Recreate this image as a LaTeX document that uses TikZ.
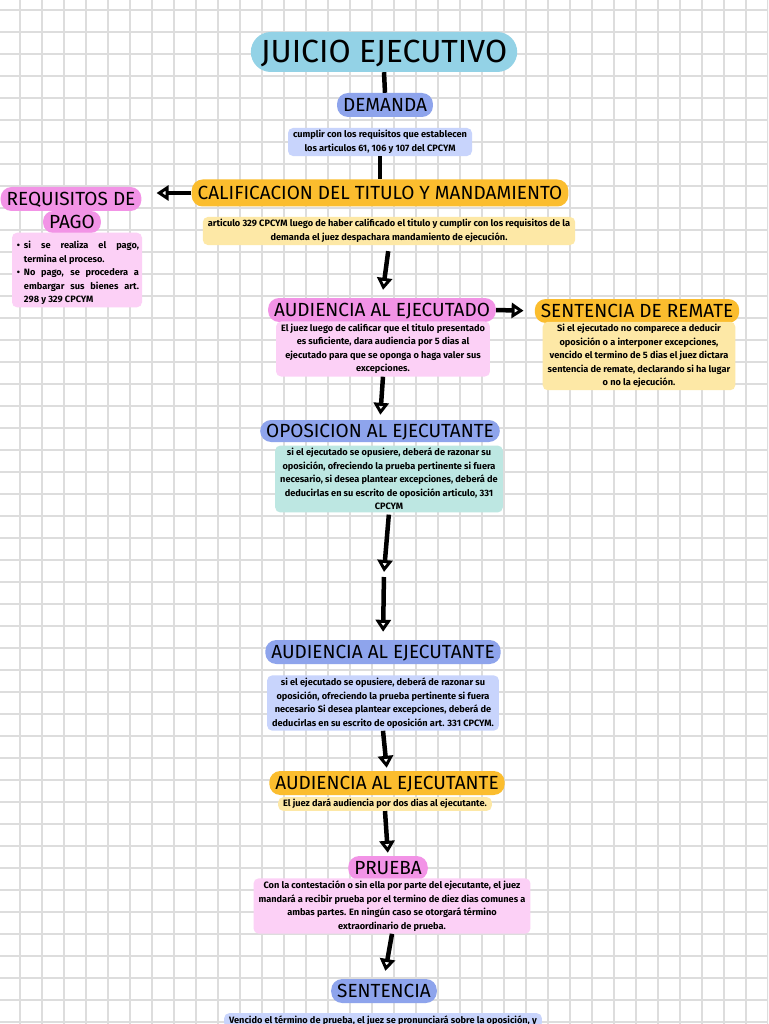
\documentclass[tikz,border=0pt]{standalone}
\usepackage{fontspec}
\setmainfont{Fira Sans}
\newfontfamily\hf{Fira Sans}
\usetikzlibrary{arrows.meta}
\definecolor{gridc}{HTML}{DDDDDD}
\definecolor{sky}{HTML}{93D2E6}
\definecolor{peri}{HTML}{8EA4EC}
\definecolor{periL}{HTML}{C8D4FC}
\definecolor{amber}{HTML}{FBBD2E}
\definecolor{amberL}{HTML}{FDE8A6}
\definecolor{pink}{HTML}{F293E6}
\definecolor{pinkL}{HTML}{FCD0F6}
\definecolor{tealL}{HTML}{BDE7E2}
\begin{document}
\begin{tikzpicture}[x=1pt,y=-1pt,
  pill/.style={rounded corners=11pt, minimum height=24pt, inner xsep=6pt, inner ysep=0pt,
    text height=13.5pt, text depth=0pt, font=\hf\fontsize{19}{22}\selectfont},
  tbox/.style={rounded corners=5pt, inner xsep=5pt, inner ysep=2.5pt, align=center,
    font=\bfseries\fontsize{9.2}{13.5}\selectfont},
  conn/.style={line width=4.5pt, black},
  arr/.style={conn, -{Triangle[open,length=12pt,width=15pt,line width=3.5pt]}},
  gridline/.style={gridc, line width=1.6pt}]
\clip (0,0) rectangle (768,1024);
\fill[white] (0,0) rectangle (768,1024);
\foreach \x in {20,42,...,768} \draw[gridline] (\x,0) -- (\x,1024);
\foreach \y in {10,32,...,1024} \draw[gridline] (0,\y) -- (768,\y);

% nodes
\node[pill, fill=sky, rounded corners=20pt, minimum height=40pt, inner xsep=10pt,
  text height=22pt, font=\hf\fontsize{32}{36}\selectfont] (title) at (384,52) {JUICIO EJECUTIVO};
\node[pill, fill=peri] (dem) at (385,105) {DEMANDA};
\node[tbox, fill=periL] (demtxt) at (380,142) {cumplir con los requisitos que establecen\\los articulos 61, 106 y 107 del CPCYM};
\node[pill, fill=amber, minimum height=27pt] (calif) at (380,193) {CALIFICACION DEL TITULO Y MANDAMIENTO};
\node[tbox, fill=amberL] (califtxt) at (389,231) {articulo 329 CPCYM luego de haber calificado el titulo y cumplir con los requisitos de la\\demanda el juez despachara mandamiento de ejecución.};

\node[pill, fill=pink] (req) at (71,199) {REQUISITOS DE};
\node[pill, fill=pink, rounded corners=10pt, minimum height=22pt] (reqb) at (72,222) {PAGO};
\node[tbox, fill=pinkL, text width=124pt, align=justify, inner xsep=3pt] (reqtxt) at (77,270)
 {\hyphenpenalty=10000 \exhyphenpenalty=10000
  \list{\textbullet}{\leftmargin=9pt \labelwidth=5pt \labelsep=4pt \topsep=0pt \itemsep=0pt \parsep=0pt \partopsep=0pt}%
  \item si se realiza el pago, termina el proceso.
  \item No pago, se procedera a embargar sus bienes art. 298 y 329 CPCYM\endlist};

\node[pill, fill=pink] (aud) at (382,310) {AUDIENCIA AL EJECUTADO};
\node[tbox, fill=pinkL] (audtxt) at (383,349) {El juez luego de calificar que el titulo presentado\\es suficiente, dara audiencia por 5 dias al\\ejecutado para que se oponga o haga valer sus\\excepciones.};
\node[pill, fill=amber] (rem) at (637,311) {SENTENCIA DE REMATE};
\node[tbox, fill=amberL] (remtxt) at (639,356) {Si el ejecutado no comparece a deducir\\oposición o a interponer excepciones,\\vencido el termino de 5 dias el juez dictara\\sentencia de remate, declarando si ha lugar\\o no la ejecución.};

\node[pill, fill=peri, minimum height=22pt] (opo) at (380,431) {OPOSICION AL EJECUTANTE};
\node[tbox, fill=tealL] (opotxt) at (389,479) {si el ejecutado se opusiere, deberá de razonar su\\oposición, ofreciendo la prueba pertinente si fuera\\necesario, si desea plantear excepciones, deberá de\\deducirlas en su escrito de oposición articulo, 331\\CPCYM};
\coordinate (mid) at (384,572);

\node[pill, fill=peri] (audte) at (383,652) {AUDIENCIA AL EJECUTANTE};
\node[tbox, fill=periL] (audtetxt) at (383,703) {si el ejecutado se opusiere, deberá de razonar su\\oposición, ofreciendo la prueba pertinente si fuera\\necesario Si desea plantear excepciones, deberá de\\deducirlas en su escrito de oposición art. 331 CPCYM.};

\node[pill, fill=amber] (audte2) at (387,783) {AUDIENCIA AL EJECUTANTE};
\node[tbox, fill=amberL, inner ysep=2pt] (audte2txt) at (385,804) {El juez dará audiencia por dos dias al ejecutante.};

\node[pill, fill=pink] (prueba) at (388,868) {PRUEBA};
\node[tbox, fill=pinkL] (pruebatxt) at (392,906) {Con la contestación o sin ella por parte del ejecutante, el juez\\mandará a recibir prueba por el termino de diez dias comunes a\\ambas partes. En ningún caso se otorgará término\\extraordinario de prueba.};

\node[pill, fill=peri] (sent) at (384,991) {SENTENCIA};
\node[tbox, fill=periL, anchor=north] (senttxt) at (383,1013) {Vencido el término de prueba, el juez se pronunciará sobre la oposición, y};

% connectors
\draw[conn] (title.south) -- (dem.north);
\draw[conn] (demtxt.south) -- (calif.north);
\draw[arr, shorten >=15pt] (calif.west) -- (calif.west -| req.east);
\draw[arr, shorten <=6pt, shorten >=8pt] (califtxt.south) -- (aud.north);
\draw[arr, shorten >=11pt] (aud.east) -- (rem.west);
\draw[arr, shorten >=5pt] (audtxt.south) -- (opo.north);
\draw[arr, shorten <=2pt] (opotxt.south) -- (mid);
\draw[arr, shorten <=5pt, shorten >=8pt] (mid) -- (audte.north);
\draw[arr, shorten >=3pt] (audtetxt.south) -- (audte2.north);
\draw[arr, shorten >=3pt] (audte2txt.south) -- (prueba.north);
\draw[arr, shorten >=8pt] (pruebatxt.south) -- (sent.north);
\end{tikzpicture}
\end{document}
